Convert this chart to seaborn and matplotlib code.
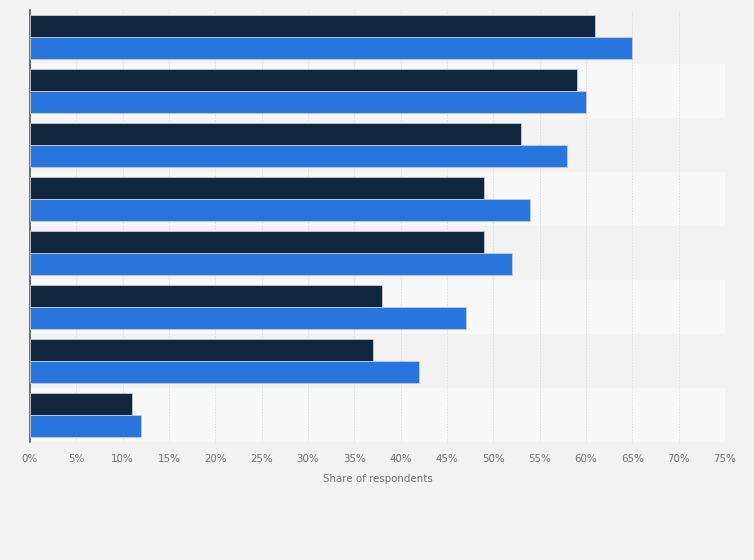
import matplotlib
matplotlib.use("Agg")
import matplotlib.pyplot as plt
import seaborn as sns
import pandas as pd
import numpy as np

categories = ["C1", "C2", "C3", "C4", "C5", "C6", "C7", "C8"]
series_a = [61, 59, 53, 49, 49, 38, 37, 11]
series_b = [65, 60, 58, 54, 52, 47, 42, 12]
series_names = ["Series A", "Series B"]
x_ticks = [0, 5, 10, 15, 20, 25, 30, 35, 40, 45, 50, 55, 60, 65, 70, 75]
x_label = "Share of respondents"

df = pd.DataFrame({
    "category": categories * 2,
    "value": series_a + series_b,
    "series": [series_names[0]] * len(categories) + [series_names[1]] * len(categories),
})

sns.set_theme(style="white")
plt.rcParams["font.family"] = ["DejaVu Sans"]

fig = plt.figure(figsize=(7.54, 5.6), dpi=100)
fig.patch.set_facecolor("#f2f2f2")
ax = fig.add_axes([30 / 754, 1 - 442 / 560, 695 / 754, 432 / 560])
ax.set_facecolor("#f2f2f2")

# alternating row bands
for i in range(len(categories)):
    if i % 2 == 1:
        ax.axhspan(i - 0.5, i + 0.5, color="#f8f8f8", zorder=0, lw=0)

sns.barplot(data=df, y="category", x="value", hue="series", orient="h",
            palette=["#10263f", "#2876dd"], saturation=1, width=0.8, ax=ax,
            edgecolor="#c8ccd2", linewidth=0.6, legend=False, zorder=3)

ax.set_xlim(0, 75)
ax.set_ylim(len(categories) - 0.5, -0.5)
ax.set_xticks(x_ticks)
ax.set_xticklabels([f"{t}%" for t in x_ticks], fontsize=7.4, color="#707070")
ax.tick_params(axis="x", length=0, pad=9)
ax.set_yticks([])
ax.set_ylabel("")
ax.set_xlabel(x_label, fontsize=7.4, color="#707070", labelpad=7)
ax.xaxis.grid(True, linestyle=(0, (1.5, 1.5)), color="#dcdcdc", linewidth=0.7, zorder=1)
ax.set_axisbelow(True)
for s in ["top", "right", "bottom"]:
    ax.spines[s].set_visible(False)
ax.spines["left"].set_color("#555555")
ax.spines["left"].set_linewidth(1.2)

fig.savefig("out.png", dpi=100, facecolor=fig.get_facecolor())
